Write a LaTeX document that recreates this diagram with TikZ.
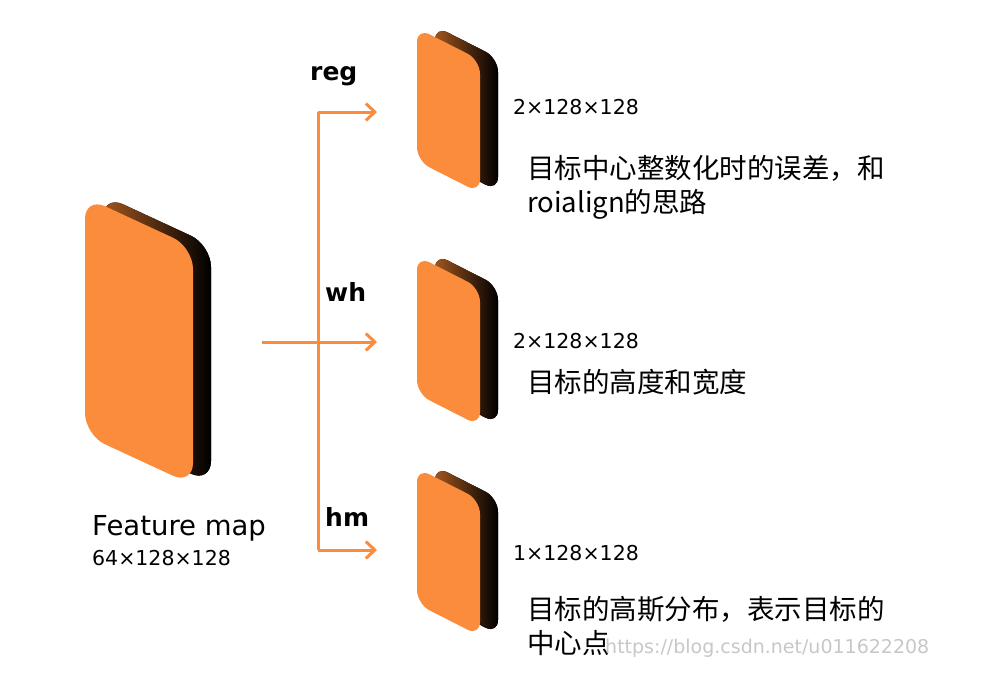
\documentclass[tikz,border=0pt]{standalone}
\usepackage{fontspec}
\setmainfont{DejaVu Sans}
\newfontfamily\cjk{Noto Sans CJK SC}
\definecolor{org}{RGB}{250,140,60}
\definecolor{brn}{RGB}{160,85,30}
\usetikzlibrary{arrows.meta}
\newcommand\mypanel[6]{% x y w h skew radius
  \fill[left color=brn,right color=black,rounded corners=#6]
    (#1+18,#2-2) -- (#1+18+#3,#2-2+#5) -- (#1+18+#3,#2-2+#4) -- (#1+18,#2-2+#4-#5) -- cycle;
  \fill[org,rounded corners=#6]
    (#1,#2) -- (#1+#3,#2+#5) -- (#1+#3,#2+#4) -- (#1,#2+#4-#5) -- cycle;
}
\tikzset{con/.style={draw=org,line width=3pt},
  arr/.style={con,-{Straight Barb[length=9pt,width=17pt,line width=3pt]}},
  lbl/.style={font=\bfseries\fontsize{25}{28}\selectfont,anchor=west,inner sep=0},
  dim/.style={font=\fontsize{20.5}{24}\selectfont,anchor=west,inner sep=0},
  desc/.style={font=\cjk\fontsize{27.5}{34}\selectfont,anchor=north west,align=left,inner sep=0}}
\begin{document}
\begin{tikzpicture}[x=1pt,y=-1pt]
\useasboundingbox (0,0) rectangle (993,680);
\mypanel{85}{197}{108}{288}{50}{22}
\mypanel{417}{28}{63}{165}{32}{14}
\mypanel{417}{256}{63}{170}{32}{14}
\mypanel{417}{468}{63}{168}{32}{14}
\coordinate (s) at (262,342);
\coordinate (jt) at (318,112);
\coordinate (jb) at (318,550);
\coordinate (ta) at (377,112);
\coordinate (tb) at (377,342);
\coordinate (tc) at (377,550);
\draw[con] (jt) -- (jb);
\draw[arr] (s) -- (tb);
\draw[arr] (jt) -- (ta);
\draw[arr] (jb) -- (tc);
\node[lbl] (lreg) at (310,76) {reg};
\node[lbl] (lwh) at (325,292) {wh};
\node[lbl] (lhm) at (325,517) {hm};
\node[dim] (d1) at (513,107) {2×128×128};
\node[dim] (d2) at (513,341) {2×128×128};
\node[dim] (d3) at (513,553) {1×128×128};
\node[desc] (t1) at (527,155) {目标中心整数化时的误差，和\\roialign的思路};
\node[desc] (t2) at (527,369) {目标的高度和宽度};
\node[desc] (t3) at (527,596) {目标的高斯分布，表示目标的\\中心点};
\node[font=\fontsize{27.5}{30}\selectfont,anchor=west,inner sep=0] (fm) at (92,528) {Feature map};
\node[dim] (fd) at (92,558) {64×128×128};
\node[font=\fontsize{19}{22}\selectfont,text=black!22,anchor=west,inner sep=0] (wm) at (605,648) {https://blog.csdn.net/u011622208};
\end{tikzpicture}
\end{document}
